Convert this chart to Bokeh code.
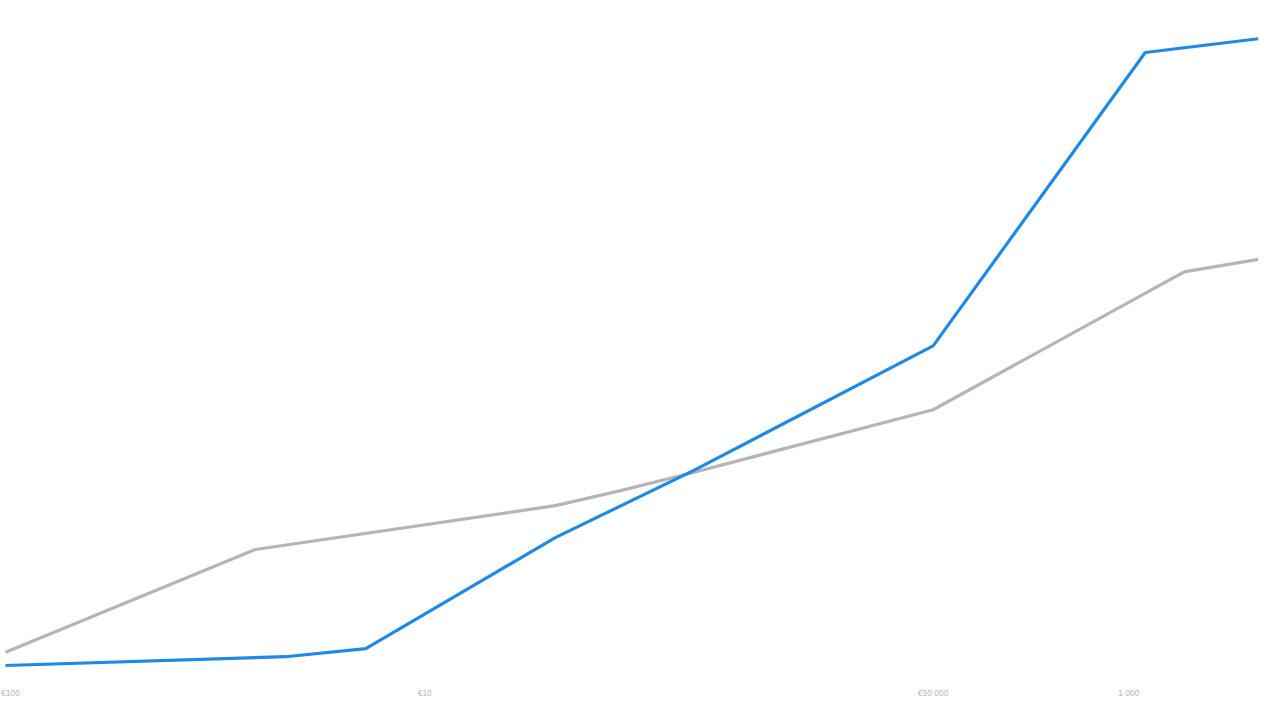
from bokeh.plotting import figure
from bokeh.models import Range1d, FixedTicker
from bokeh.embed import file_html
from bokeh.resources import INLINE

# Data (normalised 0-100 scales)
blue_x = [0, 22.3, 28.7, 43.8, 54.8, 73.9, 90.8, 99.8]
blue_y = [0, 1.4, 2.7, 20.4, 31.1, 51.0, 97.8, 100]
gray_x = [0, 19.9, 43.8, 49.0, 54.8, 73.9, 93.9, 99.8]
gray_y = [2.1, 18.5, 25.5, 27.9, 30.8, 40.8, 62.8, 64.8]
tick_pos = [0.4, 33.4, 73.9, 89.5]
tick_labels = ["€100", "€10", "€50 000", "1 000"]

p = figure(width=1264, height=704, output_backend="svg", toolbar_location=None,
           x_range=Range1d(-0.4, 100.3), y_range=Range1d(-0.48, 106.1),
           min_border_left=0, min_border_right=0, min_border_top=0,
           min_border_bottom=36)
p.outline_line_color = None
p.xgrid.visible = False
p.ygrid.visible = False
p.yaxis.visible = False

p.line(gray_x, gray_y, line_color="#b3b5b7", line_width=3.2)
p.line(blue_x, blue_y, line_color="#1f8ae6", line_width=3.2)

ax = p.xaxis[0]
ax.ticker = FixedTicker(ticks=tick_pos)
ax.major_label_overrides = {t: l for t, l in zip(tick_pos, tick_labels)}
ax.axis_line_color = None
ax.major_tick_line_color = None
ax.minor_tick_line_color = None
ax.major_tick_in = 0
ax.major_tick_out = 0
ax.major_label_standoff = 19
ax.major_label_text_font_size = "8.5px"
ax.major_label_text_color = "#b8b8b8"

open("out.html", "w").write(file_html(p, INLINE))
